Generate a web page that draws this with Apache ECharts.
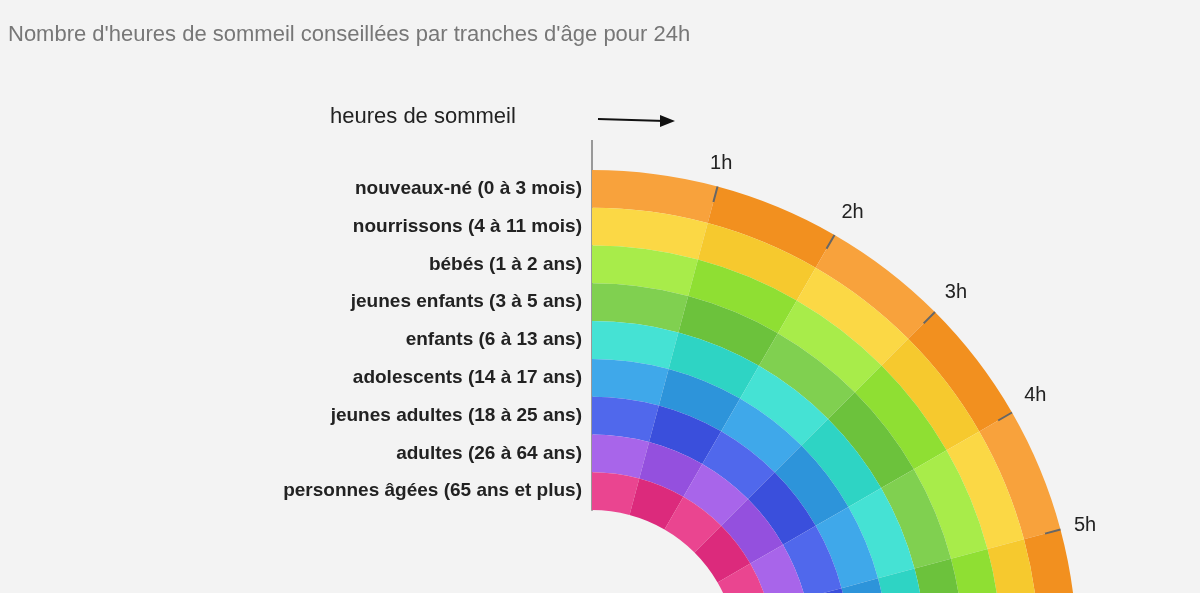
<!DOCTYPE html>
<html><head><meta charset="utf-8">
<script src="https://cdn.jsdelivr.net/npm/echarts@6/dist/echarts.min.js"></script>
<style>html,body{margin:0;background:#f3f3f3}#c{width:1200px;height:593px}</style>
</head><body><div id="c"></div>
<script>
const categories = ['nouveaux-né (0 à 3 mois)','nourrissons (4 à 11 mois)','bébés (1 à 2 ans)','jeunes enfants (3 à 5 ans)','enfants (6 à 13 ans)','adolescents (14 à 17 ans)','jeunes adultes (18 à 25 ans)','adultes (26 à 64 ans)','personnes âgées (65 ans et plus)'];
const hoursMax = [17, 15, 14, 13, 11, 10, 9, 9, 8];
const tickLabels = ['0h','1h','2h','3h','4h','5h','6h','7h','8h','9h','10h','11h','12h','13h','14h','15h','16h','17h','18h','19h','20h','21h','22h','23h'];
const lightColors = ['#f8a23c','#fbd845','#a8ec4a','#80d050','#45e2d4','#3fa8ea','#5068ec','#a865ea','#ea4590'];
const darkColors  = ['#f2901f','#f6c92e','#8fdf33','#6cc23c','#2ed4c4','#2d94da','#3a4fdc','#9450de','#dc2a7c'];

const series = [];
for (let h = 0; h < 17; h++) {
  series.push({
    type: 'bar', coordinateSystem: 'polar', polarIndex: 0, stack: 's', barWidth: '100%',
    data: hoursMax.map((m, i) => ({
      value: h < m ? 1 : 0,
      itemStyle: { color: (h % 2 === 0 ? lightColors : darkColors)[i] }
    })),
    silent: true
  });
}
const showTick = i => i >= 1 && i <= 5;
const chart = echarts.init(document.getElementById('c'));
chart.setOption({
  backgroundColor: '#f3f3f3',
  animation: false,
  polar: [
    { center: [592, 655], radius: [145, 485] },
    { center: [592, 655], radius: [145, 485] }
  ],
  angleAxis: [{
    polarIndex: 0, type: 'value', min: 0, max: 24, interval: 1, startAngle: 90, clockwise: true,
    axisLine: { show: false }, axisTick: { show: false }, axisLabel: { show: false }, splitLine: { show: false }
  }, {
    polarIndex: 1, type: 'category', data: tickLabels, boundaryGap: false, startAngle: 90, clockwise: true, z: 10,
    axisLine: { show: false },
    axisTick: { show: true, inside: true, length: 16, interval: i => showTick(i), lineStyle: { color: '#666', width: 2 } },
    axisLabel: { interval: i => showTick(i), color: '#222', fontSize: 20, fontFamily: 'Liberation Sans', margin: 14 },
    splitLine: { show: false }
  }],
  radiusAxis: [{
    polarIndex: 0, type: 'category', data: categories, inverse: true,
    axisLine: { lineStyle: { color: '#999', width: 2 } },
    axisTick: { show: false },
    axisLabel: { interval: 0, color: '#222', fontWeight: 'bold', fontSize: 19, fontFamily: 'Liberation Sans', margin: 10 }
  }, {
    polarIndex: 1, type: 'value', show: false
  }],
  series: series,
  graphic: [
    { type: 'text', left: 8, top: 24, style: { text: "Nombre d'heures de sommeil conseillées par tranches d'âge pour 24h", fill: '#777', fontSize: 22, fontFamily: 'Liberation Sans' } },
    { type: 'text', left: 330, top: 106, style: { text: 'heures de sommeil', fill: '#222', fontSize: 22, fontFamily: 'Liberation Sans' } },
    { type: 'line', shape: { x1: 598, y1: 119, x2: 665, y2: 121 }, style: { stroke: '#111', lineWidth: 2 } },
    { type: 'polygon', shape: { points: [[675,121],[660,115],[660,127]] }, style: { fill: '#111' } },
    { type: 'line', shape: { x1: 592, y1: 140, x2: 592, y2: 170 }, style: { stroke: '#999', lineWidth: 2 } }
  ]
});
</script></body></html>
